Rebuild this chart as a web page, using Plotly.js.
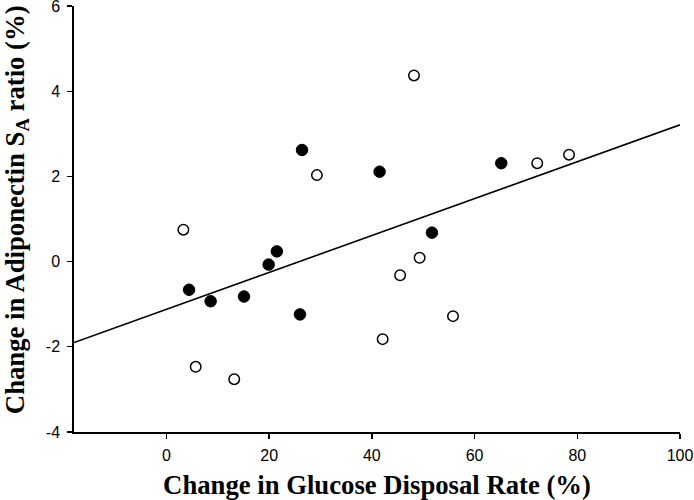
<!DOCTYPE html>
<html>
<head>
<meta charset="utf-8">
<script src="https://cdn.plot.ly/plotly-3.0.1.min.js"></script>
<style>html,body{margin:0;padding:0;background:#fff;}#chart{width:694px;height:500px;}</style>
</head>
<body>
<div id="chart"></div>
<script>
// Group with filled markers
const filledX = [4.4, 8.6, 15.1, 19.9, 21.5, 26.0, 26.4, 41.5, 51.7, 65.2];
const filledY = [-0.66, -0.93, -0.82, -0.07, 0.24, -1.24, 2.62, 2.11, 0.68, 2.31];

// Group with open markers
const openX = [3.3, 5.7, 13.2, 29.3, 42.1, 45.5, 48.2, 49.3, 55.8, 72.2, 78.4];
const openY = [0.75, -2.47, -2.76, 2.03, -1.82, -0.32, 4.37, 0.09, -1.28, 2.31, 2.51];

// Linear fit across the full x range
const fitSlope = 0.0433;
const fitIntercept = -1.12;
const fitX = [-18, 100];
const fitY = fitX.map(x => fitIntercept + fitSlope * x);

const xTicks = [0, 20, 40, 60, 80, 100];
const yTicks = [-4, -2, 0, 2, 4, 6];

const xTitle = 'Change in Glucose Disposal Rate (%)';
const yTitle = 'Change in Adiponectin S<sub>A</sub> ratio (%)';

const traces = [
  {x: fitX, y: fitY, type: 'scatter', mode: 'lines',
   line: {color: '#000', width: 1.6}, hoverinfo: 'skip'},
  {x: filledX, y: filledY, type: 'scatter', mode: 'markers',
   marker: {size: 11.5, color: '#000', line: {color: '#000', width: 1}}},
  {x: openX, y: openY, type: 'scatter', mode: 'markers',
   marker: {size: 10.5, color: '#fff', line: {color: '#000', width: 1.5}}}
];

const axisCommon = {
  showgrid: false, zeroline: false, showline: true,
  linecolor: '#000', linewidth: 1.7,
  ticks: 'outside', ticklen: 5, tickwidth: 1.4, tickcolor: '#000',
  ticklabeloverflow: 'allow',
  tickfont: {family: 'Liberation Sans, Arial, sans-serif', size: 16, color: '#000'}
};

const titleFont = {family: 'Liberation Serif, Times New Roman, serif', color: '#000', weight: 'bold'};

const layout = {
  width: 694, height: 500,
  margin: {l: 74, r: 14, t: 6, b: 68},
  paper_bgcolor: '#fff', plot_bgcolor: '#fff',
  showlegend: false,
  xaxis: Object.assign({}, axisCommon, {
    range: [-18, 100], tickvals: xTicks, ticktext: xTicks.map(String),
    ticklabelstandoff: 3,
    title: {text: xTitle, standoff: 14, font: Object.assign({size: 26.7}, titleFont)}
  }),
  yaxis: Object.assign({}, axisCommon, {
    range: [-4, 6], tickvals: yTicks, ticktext: yTicks.map(String),
    ticklabelstandoff: 4
  }),
  annotations: [{
    text: yTitle, textangle: -90, showarrow: false,
    xref: 'paper', yref: 'paper',
    x: (17 - 74) / 606, y: (431.7 - 210) / 425.7,
    xanchor: 'center', yanchor: 'middle',
    font: Object.assign({size: 26.7}, titleFont)
  }]
};

Plotly.newPlot('chart', traces, layout, {staticPlot: true, displayModeBar: false});
</script>
</body>
</html>
